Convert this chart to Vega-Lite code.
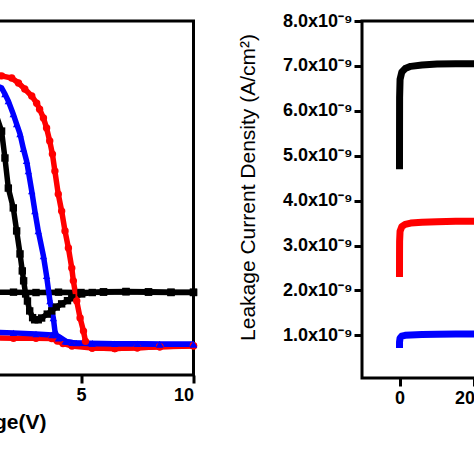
{
  "$schema": "https://vega.github.io/schema/vega-lite/v6.json",
  "background": "white",
  "padding": {"left": -269.5, "top": 10, "right": -290.5, "bottom": 36},
  "spacing": 28.5,
  "config": {
    "view": {"stroke": "black", "strokeWidth": 3},
    "axis": {
      "grid": false, "domain": false,
      "tickColor": "black", "tickWidth": 3, "tickSize": 8,
      "labelFont": "Liberation Sans", "labelFontWeight": "bold", "labelFontSize": 18, "labelColor": "black", "labelPadding": 3,
      "titleFont": "Liberation Sans", "titleColor": "black"
    }
  },
  "datasets": {
    "cv": [
      {"v": -10, "c": 96, "s": "S1", "b": "d"}, {"v": -8, "c": 96, "s": "S1", "b": "d"}, {"v": -6, "c": 95.5, "s": "S1", "b": "d"}, {"v": -4, "c": 95, "s": "S1", "b": "d"}, {"v": -2, "c": 93, "s": "S1", "b": "d"}, {"v": 0, "c": 88, "s": "S1", "b": "d"}, {"v": 0.8, "c": 80, "s": "S1", "b": "d"}, {"v": 1.2, "c": 74, "s": "S1", "b": "d"}, {"v": 1.47, "c": 68.9, "s": "S1", "b": "d"}, {"v": 1.62, "c": 61.3, "s": "S1", "b": "d"}, {"v": 1.77, "c": 52.8, "s": "S1", "b": "d"}, {"v": 1.99, "c": 47.2, "s": "S1", "b": "d"}, {"v": 2.14, "c": 40.7, "s": "S1", "b": "d"}, {"v": 2.29, "c": 34.2, "s": "S1", "b": "d"}, {"v": 2.39, "c": 29.4, "s": "S1", "b": "d"}, {"v": 2.45, "c": 26.6, "s": "S1", "b": "d"}, {"v": 2.54, "c": 22.9, "s": "S1", "b": "d"}, {"v": 2.62, "c": 20.9, "s": "S1", "b": "d"}, {"v": 2.72, "c": 18.1, "s": "S1", "b": "d"}, {"v": 2.85, "c": 16.2, "s": "S1", "b": "d"}, {"v": 2.94, "c": 15.6, "s": "S1", "b": "d"}, {"v": 3.1, "c": 15.6, "s": "S1", "b": "d"}, {"v": 3.25, "c": 16.1, "s": "S1", "b": "d"}, {"v": 3.5, "c": 17.2, "s": "S1", "b": "d"}, {"v": 3.7, "c": 18.1, "s": "S1", "b": "d"}, {"v": 3.9, "c": 19.2, "s": "S1", "b": "d"}, {"v": 4.14, "c": 20.1, "s": "S1", "b": "d"}, {"v": 4.4, "c": 21.0, "s": "S1", "b": "d"}, {"v": 4.59, "c": 21.8, "s": "S1", "b": "d"}, {"v": 5.03, "c": 22.9, "s": "S1", "b": "d"}, {"v": 5.5, "c": 23.3, "s": "S1", "b": "d"}, {"v": 6, "c": 23.5, "s": "S1", "b": "d"}, {"v": 7, "c": 23.6, "s": "S1", "b": "d"}, {"v": 8, "c": 23.5, "s": "S1", "b": "d"}, {"v": 9, "c": 23.4, "s": "S1", "b": "d"}, {"v": 10, "c": 23.4, "s": "S1", "b": "d"},
      {"v": -10, "c": 23.4, "s": "S1", "b": "u"}, {"v": -8, "c": 23.5, "s": "S1", "b": "u"}, {"v": -6, "c": 23.4, "s": "S1", "b": "u"}, {"v": -4, "c": 23.3, "s": "S1", "b": "u"}, {"v": -2, "c": 23.4, "s": "S1", "b": "u"}, {"v": 0, "c": 23.5, "s": "S1", "b": "u"}, {"v": 1, "c": 23.4, "s": "S1", "b": "u"}, {"v": 2, "c": 23.4, "s": "S1", "b": "u"}, {"v": 3, "c": 23.3, "s": "S1", "b": "u"}, {"v": 4, "c": 23.4, "s": "S1", "b": "u"}, {"v": 5, "c": 23.3, "s": "S1", "b": "u"}, {"v": 6, "c": 23.4, "s": "S1", "b": "u"}, {"v": 7, "c": 23.5, "s": "S1", "b": "u"}, {"v": 8, "c": 23.4, "s": "S1", "b": "u"}, {"v": 9, "c": 23.3, "s": "S1", "b": "u"}, {"v": 10, "c": 23.3, "s": "S1", "b": "u"},
      {"v": -10, "c": 88, "s": "S2", "b": "d"}, {"v": -8, "c": 88, "s": "S2", "b": "d"}, {"v": -6, "c": 87.8, "s": "S2", "b": "d"}, {"v": -4, "c": 87.5, "s": "S2", "b": "d"}, {"v": -2, "c": 87, "s": "S2", "b": "d"}, {"v": 0, "c": 86.2, "s": "S2", "b": "d"}, {"v": 1, "c": 85.3, "s": "S2", "b": "d"}, {"v": 1.47, "c": 84.5, "s": "S2", "b": "d"}, {"v": 1.92, "c": 83.9, "s": "S2", "b": "d"}, {"v": 2.22, "c": 82.5, "s": "S2", "b": "d"}, {"v": 2.5, "c": 80.8, "s": "S2", "b": "d"}, {"v": 2.81, "c": 78.8, "s": "S2", "b": "d"}, {"v": 3.03, "c": 76.8, "s": "S2", "b": "d"}, {"v": 3.16, "c": 75.1, "s": "S2", "b": "d"}, {"v": 3.33, "c": 72.6, "s": "S2", "b": "d"}, {"v": 3.47, "c": 69.8, "s": "S2", "b": "d"}, {"v": 3.61, "c": 66.1, "s": "S2", "b": "d"}, {"v": 3.73, "c": 62.4, "s": "S2", "b": "d"}, {"v": 3.84, "c": 57.6, "s": "S2", "b": "d"}, {"v": 3.99, "c": 51.1, "s": "S2", "b": "d"}, {"v": 4.14, "c": 46.3, "s": "S2", "b": "d"}, {"v": 4.29, "c": 40.7, "s": "S2", "b": "d"}, {"v": 4.44, "c": 35.9, "s": "S2", "b": "d"}, {"v": 4.59, "c": 30.2, "s": "S2", "b": "d"}, {"v": 4.66, "c": 26.6, "s": "S2", "b": "d"}, {"v": 4.81, "c": 20.9, "s": "S2", "b": "d"}, {"v": 4.96, "c": 16.1, "s": "S2", "b": "d"}, {"v": 5.11, "c": 12.4, "s": "S2", "b": "d"}, {"v": 5.2, "c": 9.5, "s": "S2", "b": "d"}, {"v": 5.5, "c": 7.6, "s": "S2", "b": "d"}, {"v": 6.5, "c": 7.5, "s": "S2", "b": "d"}, {"v": 7.5, "c": 7.7, "s": "S2", "b": "d"}, {"v": 8.5, "c": 8.0, "s": "S2", "b": "d"}, {"v": 10, "c": 8.2, "s": "S2", "b": "d"},
      {"v": -10, "c": 10.8, "s": "S2", "b": "u"}, {"v": -8, "c": 10.7, "s": "S2", "b": "u"}, {"v": -6, "c": 10.6, "s": "S2", "b": "u"}, {"v": -4, "c": 10.6, "s": "S2", "b": "u"}, {"v": -2, "c": 10.5, "s": "S2", "b": "u"}, {"v": 0, "c": 10.5, "s": "S2", "b": "u"}, {"v": 1, "c": 10.5, "s": "S2", "b": "u"}, {"v": 2, "c": 10.4, "s": "S2", "b": "u"}, {"v": 3, "c": 10.4, "s": "S2", "b": "u"}, {"v": 3.7, "c": 10.3, "s": "S2", "b": "u"}, {"v": 3.95, "c": 9.6, "s": "S2", "b": "u"}, {"v": 4.2, "c": 8.9, "s": "S2", "b": "u"}, {"v": 4.6, "c": 8.2, "s": "S2", "b": "u"}, {"v": 5.5, "c": 7.6, "s": "S2", "b": "u"}, {"v": 6.5, "c": 7.5, "s": "S2", "b": "u"}, {"v": 7.5, "c": 7.7, "s": "S2", "b": "u"}, {"v": 8.5, "c": 8.0, "s": "S2", "b": "u"}, {"v": 10, "c": 8.3, "s": "S2", "b": "u"},
      {"v": -10, "c": 88, "s": "S3", "b": "d"}, {"v": -8, "c": 88, "s": "S3", "b": "d"}, {"v": -6, "c": 87.5, "s": "S3", "b": "d"}, {"v": -4, "c": 87, "s": "S3", "b": "d"}, {"v": -2, "c": 86, "s": "S3", "b": "d"}, {"v": 0, "c": 84.5, "s": "S3", "b": "d"}, {"v": 1, "c": 82.5, "s": "S3", "b": "d"}, {"v": 1.47, "c": 81.1, "s": "S3", "b": "d"}, {"v": 1.62, "c": 79.4, "s": "S3", "b": "d"}, {"v": 1.77, "c": 77.4, "s": "S3", "b": "d"}, {"v": 1.99, "c": 73.7, "s": "S3", "b": "d"}, {"v": 2.14, "c": 70.9, "s": "S3", "b": "d"}, {"v": 2.29, "c": 68.1, "s": "S3", "b": "d"}, {"v": 2.44, "c": 63.9, "s": "S3", "b": "d"}, {"v": 2.58, "c": 60.5, "s": "S3", "b": "d"}, {"v": 2.66, "c": 57.6, "s": "S3", "b": "d"}, {"v": 2.81, "c": 52.0, "s": "S3", "b": "d"}, {"v": 2.95, "c": 46.3, "s": "S3", "b": "d"}, {"v": 3.1, "c": 40.7, "s": "S3", "b": "d"}, {"v": 3.33, "c": 33.6, "s": "S3", "b": "d"}, {"v": 3.47, "c": 28.0, "s": "S3", "b": "d"}, {"v": 3.62, "c": 20.9, "s": "S3", "b": "d"}, {"v": 3.77, "c": 16.1, "s": "S3", "b": "d"}, {"v": 3.84, "c": 12.5, "s": "S3", "b": "d"}, {"v": 3.9, "c": 11.3, "s": "S3", "b": "d"}, {"v": 4.1, "c": 10.5, "s": "S3", "b": "d"}, {"v": 4.37, "c": 9.4, "s": "S3", "b": "d"}, {"v": 4.8, "c": 9.0, "s": "S3", "b": "d"}, {"v": 5.5, "c": 8.9, "s": "S3", "b": "d"}, {"v": 6.5, "c": 8.8, "s": "S3", "b": "d"}, {"v": 7.5, "c": 8.8, "s": "S3", "b": "d"}, {"v": 8.5, "c": 8.7, "s": "S3", "b": "d"}, {"v": 10, "c": 8.7, "s": "S3", "b": "d"},
      {"v": -10, "c": 12.8, "s": "S3", "b": "u"}, {"v": -8, "c": 12.7, "s": "S3", "b": "u"}, {"v": -6, "c": 12.6, "s": "S3", "b": "u"}, {"v": -4, "c": 12.5, "s": "S3", "b": "u"}, {"v": -2, "c": 12.4, "s": "S3", "b": "u"}, {"v": 0, "c": 12.2, "s": "S3", "b": "u"}, {"v": 1, "c": 12.1, "s": "S3", "b": "u"}, {"v": 2, "c": 11.9, "s": "S3", "b": "u"}, {"v": 3, "c": 11.6, "s": "S3", "b": "u"}, {"v": 3.7, "c": 11.3, "s": "S3", "b": "u"}, {"v": 4.0, "c": 10.4, "s": "S3", "b": "u"}, {"v": 4.3, "c": 9.5, "s": "S3", "b": "u"}, {"v": 4.6, "c": 9.1, "s": "S3", "b": "u"}, {"v": 5.5, "c": 8.9, "s": "S3", "b": "u"}, {"v": 6.5, "c": 8.8, "s": "S3", "b": "u"}, {"v": 7.5, "c": 8.8, "s": "S3", "b": "u"}, {"v": 8.5, "c": 8.7, "s": "S3", "b": "u"}, {"v": 10, "c": 8.7, "s": "S3", "b": "u"}
    ],
    "leak": [
      {"t": 0, "j": 4.70e-9, "s": "S1"}, {"t": 1, "j": 5.5e-9, "s": "S1"}, {"t": 3, "j": 6.3e-9, "s": "S1"}, {"t": 15, "j": 6.7e-9, "s": "S1"}, {"t": 60, "j": 6.86e-9, "s": "S1"}, {"t": 150, "j": 6.94e-9, "s": "S1"}, {"t": 300, "j": 6.99e-9, "s": "S1"}, {"t": 600, "j": 7.02e-9, "s": "S1"}, {"t": 1000, "j": 7.04e-9, "s": "S1"}, {"t": 1500, "j": 7.05e-9, "s": "S1"}, {"t": 2000, "j": 7.05e-9, "s": "S1"}, {"t": 3000, "j": 7.06e-9, "s": "S1"}, {"t": 4000, "j": 7.06e-9, "s": "S1"}, {"t": 6000, "j": 7.07e-9, "s": "S1"}, {"t": 8000, "j": 7.07e-9, "s": "S1"}, {"t": 10000, "j": 7.08e-9, "s": "S1"},
      {"t": 0, "j": 2.30e-9, "s": "S2"}, {"t": 1, "j": 2.8e-9, "s": "S2"}, {"t": 3, "j": 3.1e-9, "s": "S2"}, {"t": 15, "j": 3.32e-9, "s": "S2"}, {"t": 60, "j": 3.42e-9, "s": "S2"}, {"t": 150, "j": 3.47e-9, "s": "S2"}, {"t": 300, "j": 3.50e-9, "s": "S2"}, {"t": 600, "j": 3.52e-9, "s": "S2"}, {"t": 1000, "j": 3.53e-9, "s": "S2"}, {"t": 1500, "j": 3.54e-9, "s": "S2"}, {"t": 2000, "j": 3.54e-9, "s": "S2"}, {"t": 4000, "j": 3.55e-9, "s": "S2"}, {"t": 6000, "j": 3.55e-9, "s": "S2"}, {"t": 8000, "j": 3.56e-9, "s": "S2"}, {"t": 10000, "j": 3.56e-9, "s": "S2"},
      {"t": 0, "j": 0.72e-9, "s": "S3"}, {"t": 1, "j": 0.85e-9, "s": "S3"}, {"t": 15, "j": 0.94e-9, "s": "S3"}, {"t": 60, "j": 0.98e-9, "s": "S3"}, {"t": 150, "j": 1.0e-9, "s": "S3"}, {"t": 300, "j": 1.01e-9, "s": "S3"}, {"t": 600, "j": 1.02e-9, "s": "S3"}, {"t": 1000, "j": 1.025e-9, "s": "S3"}, {"t": 1500, "j": 1.03e-9, "s": "S3"}, {"t": 2000, "j": 1.03e-9, "s": "S3"}, {"t": 4000, "j": 1.03e-9, "s": "S3"}, {"t": 6000, "j": 1.035e-9, "s": "S3"}, {"t": 8000, "j": 1.04e-9, "s": "S3"}, {"t": 10000, "j": 1.04e-9, "s": "S3"}
    ]
  },
  "hconcat": [
    {
      "width": 450,
      "height": 354,
      "data": {"name": "cv"},
      "encoding": {
        "x": {"field": "v", "type": "quantitative", "scale": {"domain": [-10, 10], "nice": false, "zero": false},
              "axis": {"values": [-10, -5, 0, 5, 10], "title": "Gate Voltage(V)", "titleFontSize": 21, "titleFontWeight": "bold", "titlePadding": 7}},
        "y": {"field": "c", "type": "quantitative", "scale": {"domain": [0, 100], "nice": false}, "axis": null},
        "color": {"field": "s", "type": "nominal", "scale": {"domain": ["S1", "S2", "S3"], "range": ["#000000", "#ff0000", "#0000ff"]}, "legend": null},
        "detail": {"field": "b", "type": "nominal"}
      },
      "layer": [
        {"mark": {"type": "line", "strokeWidth": 5.5}},
        {"mark": {"type": "point", "filled": true, "size": 55, "opacity": 1},
         "encoding": {"shape": {"field": "s", "type": "nominal", "scale": {"domain": ["S1", "S2", "S3"], "range": ["square", "circle", "triangle-up"]}, "legend": null}}}
      ]
    },
    {
      "width": 412.5,
      "height": 357,
      "data": {"name": "leak"},
      "mark": {"type": "line", "strokeWidth": 7, "strokeJoin": "round"},
      "encoding": {
        "x": {"field": "t", "type": "quantitative", "scale": {"domain": [-1000, 10000], "nice": false, "zero": false},
              "axis": {"values": [0, 2000, 4000, 6000, 8000, 10000], "format": "d", "title": "Time (s)", "titleFontSize": 20, "titleFontWeight": "bold", "titlePadding": 8}},
        "y": {"field": "j", "type": "quantitative", "scale": {"domain": [5e-11, 8e-9], "nice": false, "zero": false},
              "axis": {"values": [1e-9, 2e-9, 3e-9, 4e-9, 5e-9, 6e-9, 7e-9, 8e-9], "labelExpr": "format(datum.value * 1e9, '.1f') + 'x10⁻⁹'", "labelPadding": 2, "title": "Leakage Current Density (A/cm²)", "titleFontSize": 21, "titleFontWeight": "normal", "titlePadding": 24, "titleY": 166}},
        "color": {"field": "s", "type": "nominal", "scale": {"domain": ["S1", "S2", "S3"], "range": ["#000000", "#ff0000", "#0000ff"]}, "legend": null}
      }
    }
  ]
}
